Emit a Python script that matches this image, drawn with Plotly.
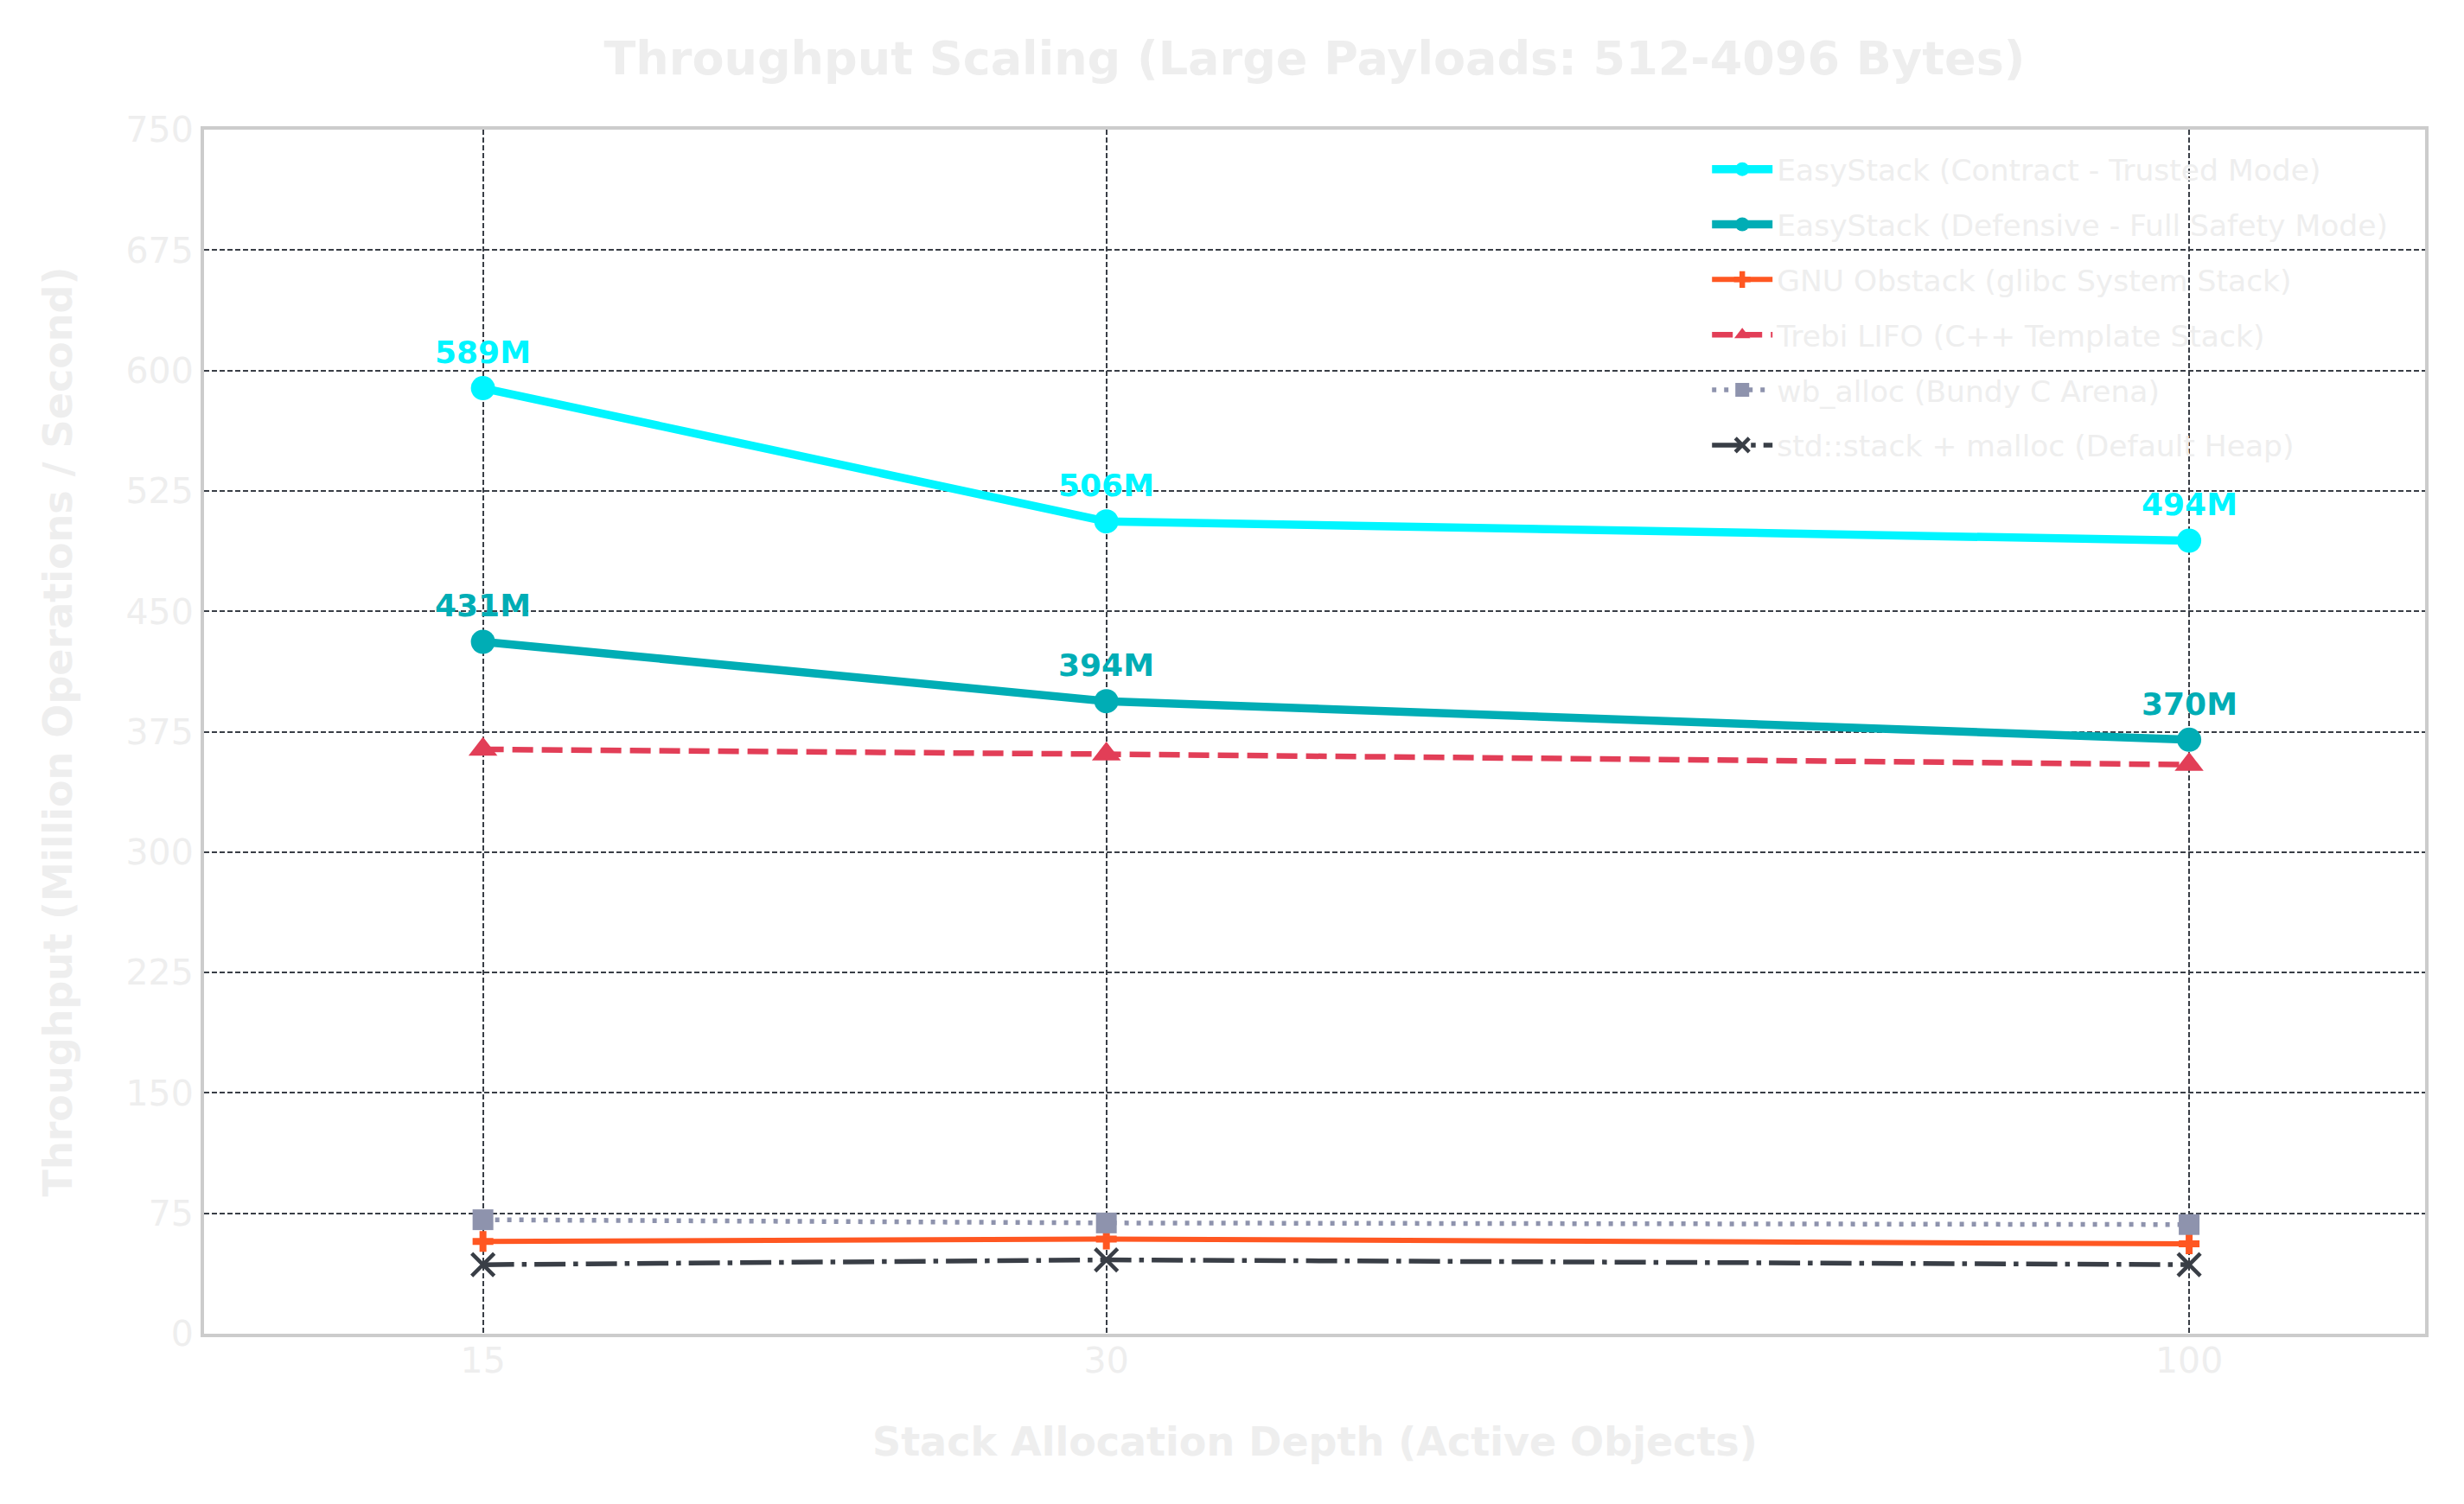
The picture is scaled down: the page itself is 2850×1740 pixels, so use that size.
import math
import plotly.graph_objects as go

# ---------------- data ----------------
depths = [15, 30, 100]
depth_labels = ["15", "30", "100"]

series_names = [
    "EasyStack (Contract - Trusted Mode)",
    "EasyStack (Defensive - Full Safety Mode)",
    "GNU Obstack (glibc System Stack)",
    "Trebi LIFO (C++ Template Stack)",
    "wb_alloc (Bundy C Arena)",
    "std::stack + malloc (Default Heap)",
]
easystack_contract = [589, 506, 494]
easystack_defensive = [431, 394, 370]
gnu_obstack = [57.5, 59, 56]
trebi_lifo = [364, 361, 354.5]
wb_alloc = [71, 69, 68]
std_stack_malloc = [43, 46, 43]

y_ticks = [0, 75, 150, 225, 300, 375, 450, 525, 600, 675, 750]

# ---------------- styles ----------------
FONT = "DejaVu Sans"
TEXT = "#EEEEEE"
GRID = "#393E46"

styles = [
    dict(color="#00F5FF", width=9.5, dash="solid", symbol="circle", size=28, mlw=0),
    dict(color="#00ADB5", width=9.5, dash="solid", symbol="circle", size=28, mlw=0),
    dict(color="#FF5722", width=6, dash="solid", symbol="cross", size=20, mlw=0),
    dict(color="#E23E57", width=6.5, dash="24px,10px", symbol="triangle-up", size=29, mlw=0),
    dict(color="#8E93AD", width=5.5, dash="5px,9px", symbol="square", size=24, mlw=0),
    dict(color="#393E46", width=5.5, dash="36px,9px,5.5px,9px", symbol="x-thin", size=26, mlw=4.5),
]
values = [easystack_contract, easystack_defensive, gnu_obstack, trebi_lifo, wb_alloc, std_stack_malloc]

fig = go.Figure()
for i, (name, vals, st) in enumerate(zip(series_names, values, styles)):
    marker = dict(symbol=st["symbol"], size=st["size"], color=st["color"])
    if st["mlw"]:
        marker["line"] = dict(width=st["mlw"], color=st["color"])
    fig.add_trace(go.Scatter(
        x=depths, y=vals, name=name, mode="lines+markers",
        line=dict(color=st["color"], width=st["width"], dash=st["dash"]),
        marker=marker, legendgroup=f"g{i}",
    ))

# value labels for the two EasyStack series
for vals, st in [(easystack_contract, styles[0]), (easystack_defensive, styles[1])]:
    for xv, yv in zip(depths, vals):
        fig.add_annotation(
            x=math.log10(xv), y=yv, xref="x", yref="y",
            text=f"{yv:.0f}M", showarrow=False,
            yanchor="bottom", xanchor="center", yshift=19,
            font=dict(family=FONT, size=36, color=st["color"], weight="bold"),
        )

# axis titles
fig.add_annotation(
    x=0.5, y=-0.0897, xref="paper", yref="paper",
    text="Stack Allocation Depth (Active Objects)", showarrow=False,
    xanchor="center", yanchor="middle",
    font=dict(family=FONT, size=46, color=TEXT, weight="bold"),
)
fig.add_annotation(
    x=-0.0658, y=0.5, xref="paper", yref="paper",
    text="Throughput (Million Operations / Second)", showarrow=False,
    textangle=-90, xanchor="center", yanchor="middle",
    font=dict(family=FONT, size=46, color=TEXT, weight="bold"),
)

fig.update_layout(
    width=2850, height=1740,
    margin=dict(l=236, r=45, t=150, b=197),
    paper_bgcolor="white", plot_bgcolor="white",
    title=dict(
        text="Throughput Scaling (Large Payloads: 512-4096 Bytes)",
        x=0.5, xref="paper", y=1 - 67 / 1740, yref="container",
        xanchor="center", yanchor="middle",
        font=dict(family=FONT, size=54, color=TEXT, weight="bold"),
    ),
    font=dict(family=FONT, color=TEXT),
    legend=dict(
        x=0.677, y=0.988, xanchor="left", yanchor="top",
        bgcolor="rgba(0,0,0,0)", borderwidth=0,
        font=dict(family=FONT, size=34.5, color=TEXT),
        traceorder="grouped", tracegroupgap=16, itemwidth=70,
    ),
    showlegend=True,
)

fig.update_xaxes(
    type="log", range=[math.log10(11), math.log10(130)],
    tickvals=depths, ticktext=depth_labels,
    tickfont=dict(family=FONT, size=41, color=TEXT),
    ticks="", ticklabelstandoff=-8,
    showgrid=True, gridcolor=GRID, gridwidth=2, griddash="6px,3px",
    showline=True, linecolor="#CCCCCC", linewidth=4, mirror=True,
    zeroline=False,
)
fig.update_yaxes(
    range=[0, 750], tickvals=y_ticks,
    tickfont=dict(family=FONT, size=41, color=TEXT),
    ticks="", ticklabelstandoff=0,
    showgrid=True, gridcolor=GRID, gridwidth=2, griddash="6px,3px",
    showline=True, linecolor="#CCCCCC", linewidth=4, mirror=True,
    zeroline=False,
)

fig.write_html("out.html")
